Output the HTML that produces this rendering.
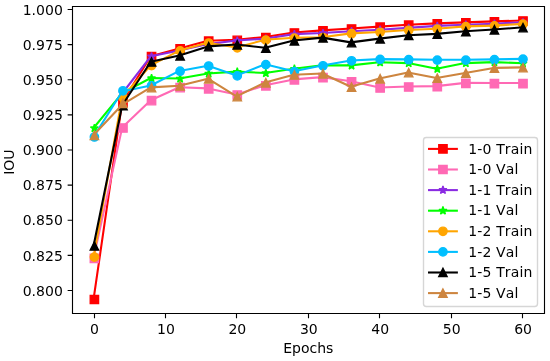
<!DOCTYPE html>
<html><head><meta charset="utf-8"><title>IOU vs Epochs</title>
<style>
html,body{margin:0;padding:0;background:#fff;}
body{width:550px;height:361px;overflow:hidden;}
svg{display:block;}
text{font-kerning:none;}
</style></head><body>
<svg width="550" height="361" viewBox="0 0 550 361">
<rect x="0" y="0" width="550" height="361" fill="#fff"/>
<defs><clipPath id="ax"><rect x="72.5" y="6.5" width="472.0" height="307.0"/></clipPath></defs>
<g clip-path="url(#ax)">
<path d="M93.6 299 L122.18 102.2 L150.76 56.2 L179.34 48.4 L207.92 40.7 L236.5 39.8 L265.08 37 L293.66 32.5 L322.24 30.4 L350.82 28.5 L379.4 26.6 L407.98 24.7 L436.56 23.4 L465.14 22.4 L493.72 21.4 L522.3 20.5" fill="none" stroke="#ff0000" stroke-width="2.08" stroke-linecap="square" stroke-linejoin="round"/>
<path d="M90.23 303.67 L98.57 303.67 L98.57 295.33 L90.23 295.33 Z" fill="#ff0000" stroke="#ff0000" stroke-width="1.39" stroke-linejoin="miter"/>
<path d="M118.81 106.87 L127.14 106.87 L127.14 98.53 L118.81 98.53 Z" fill="#ff0000" stroke="#ff0000" stroke-width="1.39" stroke-linejoin="miter"/>
<path d="M147.38 60.87 L155.71 60.87 L155.71 52.53 L147.38 52.53 Z" fill="#ff0000" stroke="#ff0000" stroke-width="1.39" stroke-linejoin="miter"/>
<path d="M175.95 53.07 L184.29 53.07 L184.29 44.73 L175.95 44.73 Z" fill="#ff0000" stroke="#ff0000" stroke-width="1.39" stroke-linejoin="miter"/>
<path d="M204.53 45.37 L212.86 45.37 L212.86 37.03 L204.53 37.03 Z" fill="#ff0000" stroke="#ff0000" stroke-width="1.39" stroke-linejoin="miter"/>
<path d="M233.1 44.47 L241.43 44.47 L241.43 36.13 L233.1 36.13 Z" fill="#ff0000" stroke="#ff0000" stroke-width="1.39" stroke-linejoin="miter"/>
<path d="M261.67 41.67 L270.01 41.67 L270.01 33.33 L261.67 33.33 Z" fill="#ff0000" stroke="#ff0000" stroke-width="1.39" stroke-linejoin="miter"/>
<path d="M290.25 37.17 L298.58 37.17 L298.58 28.83 L290.25 28.83 Z" fill="#ff0000" stroke="#ff0000" stroke-width="1.39" stroke-linejoin="miter"/>
<path d="M318.82 35.07 L327.15 35.07 L327.15 26.73 L318.82 26.73 Z" fill="#ff0000" stroke="#ff0000" stroke-width="1.39" stroke-linejoin="miter"/>
<path d="M347.39 33.17 L355.73 33.17 L355.73 24.83 L347.39 24.83 Z" fill="#ff0000" stroke="#ff0000" stroke-width="1.39" stroke-linejoin="miter"/>
<path d="M375.97 31.27 L384.3 31.27 L384.3 22.93 L375.97 22.93 Z" fill="#ff0000" stroke="#ff0000" stroke-width="1.39" stroke-linejoin="miter"/>
<path d="M404.54 29.37 L412.87 29.37 L412.87 21.03 L404.54 21.03 Z" fill="#ff0000" stroke="#ff0000" stroke-width="1.39" stroke-linejoin="miter"/>
<path d="M433.11 28.07 L441.45 28.07 L441.45 19.73 L433.11 19.73 Z" fill="#ff0000" stroke="#ff0000" stroke-width="1.39" stroke-linejoin="miter"/>
<path d="M461.69 27.07 L470.02 27.07 L470.02 18.73 L461.69 18.73 Z" fill="#ff0000" stroke="#ff0000" stroke-width="1.39" stroke-linejoin="miter"/>
<path d="M490.26 26.07 L498.59 26.07 L498.59 17.73 L490.26 17.73 Z" fill="#ff0000" stroke="#ff0000" stroke-width="1.39" stroke-linejoin="miter"/>
<path d="M518.83 25.17 L527.17 25.17 L527.17 16.83 L518.83 16.83 Z" fill="#ff0000" stroke="#ff0000" stroke-width="1.39" stroke-linejoin="miter"/>
<path d="M93.6 257.8 L122.18 127.5 L150.76 100.2 L179.34 87.2 L207.92 88.4 L236.5 94.5 L265.08 85.3 L293.66 79.4 L322.24 77.1 L350.82 81.3 L379.4 87.5 L407.98 86.5 L436.56 86.1 L465.14 82.9 L493.72 83 L522.3 83" fill="none" stroke="#ff69b4" stroke-width="2.08" stroke-linecap="square" stroke-linejoin="round"/>
<path d="M90.23 262.47 L98.57 262.47 L98.57 254.13 L90.23 254.13 Z" fill="#ff69b4" stroke="#ff69b4" stroke-width="1.39" stroke-linejoin="miter"/>
<path d="M118.81 132.17 L127.14 132.17 L127.14 123.83 L118.81 123.83 Z" fill="#ff69b4" stroke="#ff69b4" stroke-width="1.39" stroke-linejoin="miter"/>
<path d="M147.38 104.87 L155.71 104.87 L155.71 96.53 L147.38 96.53 Z" fill="#ff69b4" stroke="#ff69b4" stroke-width="1.39" stroke-linejoin="miter"/>
<path d="M175.95 91.87 L184.29 91.87 L184.29 83.53 L175.95 83.53 Z" fill="#ff69b4" stroke="#ff69b4" stroke-width="1.39" stroke-linejoin="miter"/>
<path d="M204.53 93.07 L212.86 93.07 L212.86 84.73 L204.53 84.73 Z" fill="#ff69b4" stroke="#ff69b4" stroke-width="1.39" stroke-linejoin="miter"/>
<path d="M233.1 99.17 L241.43 99.17 L241.43 90.83 L233.1 90.83 Z" fill="#ff69b4" stroke="#ff69b4" stroke-width="1.39" stroke-linejoin="miter"/>
<path d="M261.67 89.97 L270.01 89.97 L270.01 81.63 L261.67 81.63 Z" fill="#ff69b4" stroke="#ff69b4" stroke-width="1.39" stroke-linejoin="miter"/>
<path d="M290.25 84.07 L298.58 84.07 L298.58 75.73 L290.25 75.73 Z" fill="#ff69b4" stroke="#ff69b4" stroke-width="1.39" stroke-linejoin="miter"/>
<path d="M318.82 81.77 L327.15 81.77 L327.15 73.43 L318.82 73.43 Z" fill="#ff69b4" stroke="#ff69b4" stroke-width="1.39" stroke-linejoin="miter"/>
<path d="M347.39 85.97 L355.73 85.97 L355.73 77.63 L347.39 77.63 Z" fill="#ff69b4" stroke="#ff69b4" stroke-width="1.39" stroke-linejoin="miter"/>
<path d="M375.97 92.17 L384.3 92.17 L384.3 83.83 L375.97 83.83 Z" fill="#ff69b4" stroke="#ff69b4" stroke-width="1.39" stroke-linejoin="miter"/>
<path d="M404.54 91.17 L412.87 91.17 L412.87 82.83 L404.54 82.83 Z" fill="#ff69b4" stroke="#ff69b4" stroke-width="1.39" stroke-linejoin="miter"/>
<path d="M433.11 90.77 L441.45 90.77 L441.45 82.43 L433.11 82.43 Z" fill="#ff69b4" stroke="#ff69b4" stroke-width="1.39" stroke-linejoin="miter"/>
<path d="M461.69 87.57 L470.02 87.57 L470.02 79.23 L461.69 79.23 Z" fill="#ff69b4" stroke="#ff69b4" stroke-width="1.39" stroke-linejoin="miter"/>
<path d="M490.26 87.77 L498.59 87.77 L498.59 79.43 L490.26 79.43 Z" fill="#ff69b4" stroke="#ff69b4" stroke-width="1.39" stroke-linejoin="miter"/>
<path d="M518.83 87.77 L527.17 87.77 L527.17 79.43 L518.83 79.43 Z" fill="#ff69b4" stroke="#ff69b4" stroke-width="1.39" stroke-linejoin="miter"/>
<path d="M122.18 93.5 L150.76 56.3 L179.34 50.4 L207.92 44.1 L236.5 40.5 L265.08 38.7 L293.66 34.1 L322.24 33 L350.82 31.2 L379.4 29.7 L407.98 27.9 L436.56 25.9 L465.14 24.7 L493.72 23.7 L522.3 22.3" fill="none" stroke="#8a2be2" stroke-width="2.08" stroke-linecap="square" stroke-linejoin="round"/>
<path d="M122.97 89.13 L122.04 92.01 L119.01 92.01 L121.46 93.79 L120.52 96.67 L122.97 94.89 L125.42 96.67 L124.49 93.79 L126.94 92.01 L123.91 92.01 Z" fill="#8a2be2" stroke="#8a2be2" stroke-width="1.39" stroke-linejoin="bevel"/>
<path d="M151.55 52.43 L150.61 55.31 L147.58 55.31 L150.03 57.09 L149.1 59.97 L151.55 58.19 L154 59.97 L153.06 57.09 L155.51 55.31 L152.48 55.31 Z" fill="#8a2be2" stroke="#8a2be2" stroke-width="1.39" stroke-linejoin="bevel"/>
<path d="M180.12 46.53 L179.18 49.41 L176.16 49.41 L178.61 51.19 L177.67 54.07 L180.12 52.29 L182.57 54.07 L181.63 51.19 L184.08 49.41 L181.06 49.41 Z" fill="#8a2be2" stroke="#8a2be2" stroke-width="1.39" stroke-linejoin="bevel"/>
<path d="M208.69 40.23 L207.76 43.11 L204.73 43.11 L207.18 44.89 L206.24 47.77 L208.69 45.99 L211.14 47.77 L210.21 44.89 L212.66 43.11 L209.63 43.11 Z" fill="#8a2be2" stroke="#8a2be2" stroke-width="1.39" stroke-linejoin="bevel"/>
<path d="M237.27 36.63 L236.33 39.51 L233.3 39.51 L235.75 41.29 L234.82 44.17 L237.27 42.39 L239.72 44.17 L238.78 41.29 L241.23 39.51 L238.2 39.51 Z" fill="#8a2be2" stroke="#8a2be2" stroke-width="1.39" stroke-linejoin="bevel"/>
<path d="M265.84 34.83 L264.9 37.71 L261.88 37.71 L264.33 39.49 L263.39 42.37 L265.84 40.59 L268.29 42.37 L267.35 39.49 L269.8 37.71 L266.78 37.71 Z" fill="#8a2be2" stroke="#8a2be2" stroke-width="1.39" stroke-linejoin="bevel"/>
<path d="M294.41 30.23 L293.48 33.11 L290.45 33.11 L292.9 34.89 L291.96 37.77 L294.41 35.99 L296.86 37.77 L295.93 34.89 L298.38 33.11 L295.35 33.11 Z" fill="#8a2be2" stroke="#8a2be2" stroke-width="1.39" stroke-linejoin="bevel"/>
<path d="M322.99 29.13 L322.05 32.01 L319.02 32.01 L321.47 33.79 L320.54 36.67 L322.99 34.89 L325.44 36.67 L324.5 33.79 L326.95 32.01 L323.92 32.01 Z" fill="#8a2be2" stroke="#8a2be2" stroke-width="1.39" stroke-linejoin="bevel"/>
<path d="M351.56 27.33 L350.62 30.21 L347.6 30.21 L350.05 31.99 L349.11 34.87 L351.56 33.09 L354.01 34.87 L353.07 31.99 L355.52 30.21 L352.5 30.21 Z" fill="#8a2be2" stroke="#8a2be2" stroke-width="1.39" stroke-linejoin="bevel"/>
<path d="M380.13 25.83 L379.2 28.71 L376.17 28.71 L378.62 30.49 L377.68 33.37 L380.13 31.59 L382.58 33.37 L381.65 30.49 L384.1 28.71 L381.07 28.71 Z" fill="#8a2be2" stroke="#8a2be2" stroke-width="1.39" stroke-linejoin="bevel"/>
<path d="M408.71 24.03 L407.77 26.91 L404.74 26.91 L407.19 28.69 L406.26 31.57 L408.71 29.79 L411.16 31.57 L410.22 28.69 L412.67 26.91 L409.64 26.91 Z" fill="#8a2be2" stroke="#8a2be2" stroke-width="1.39" stroke-linejoin="bevel"/>
<path d="M437.28 22.03 L436.34 24.91 L433.32 24.91 L435.77 26.69 L434.83 29.57 L437.28 27.79 L439.73 29.57 L438.79 26.69 L441.24 24.91 L438.22 24.91 Z" fill="#8a2be2" stroke="#8a2be2" stroke-width="1.39" stroke-linejoin="bevel"/>
<path d="M465.85 20.83 L464.92 23.71 L461.89 23.71 L464.34 25.49 L463.4 28.37 L465.85 26.59 L468.3 28.37 L467.37 25.49 L469.82 23.71 L466.79 23.71 Z" fill="#8a2be2" stroke="#8a2be2" stroke-width="1.39" stroke-linejoin="bevel"/>
<path d="M494.43 19.83 L493.49 22.71 L490.46 22.71 L492.91 24.49 L491.98 27.37 L494.43 25.59 L496.88 27.37 L495.94 24.49 L498.39 22.71 L495.36 22.71 Z" fill="#8a2be2" stroke="#8a2be2" stroke-width="1.39" stroke-linejoin="bevel"/>
<path d="M523 18.43 L522.06 21.31 L519.04 21.31 L521.49 23.09 L520.55 25.97 L523 24.19 L525.45 25.97 L524.51 23.09 L526.96 21.31 L523.94 21.31 Z" fill="#8a2be2" stroke="#8a2be2" stroke-width="1.39" stroke-linejoin="bevel"/>
<path d="M93.6 128 L122.18 93.2 L150.76 78 L179.34 78.5 L207.92 73.5 L236.5 71.6 L265.08 73 L293.66 68.7 L322.24 65.2 L350.82 65.4 L379.4 62.3 L407.98 63.1 L436.56 68.7 L465.14 63.1 L493.72 62.1 L522.3 63.2" fill="none" stroke="#00ff00" stroke-width="2.08" stroke-linecap="square" stroke-linejoin="round"/>
<path d="M94.4 124.13 L93.46 127.01 L90.44 127.01 L92.89 128.79 L91.95 131.67 L94.4 129.89 L96.85 131.67 L95.91 128.79 L98.36 127.01 L95.34 127.01 Z" fill="#00ff00" stroke="#00ff00" stroke-width="1.39" stroke-linejoin="bevel"/>
<path d="M122.97 88.33 L122.04 91.21 L119.01 91.21 L121.46 92.99 L120.52 95.87 L122.97 94.09 L125.42 95.87 L124.49 92.99 L126.94 91.21 L123.91 91.21 Z" fill="#00ff00" stroke="#00ff00" stroke-width="1.39" stroke-linejoin="bevel"/>
<path d="M151.55 74.13 L150.61 77.01 L147.58 77.01 L150.03 78.79 L149.1 81.67 L151.55 79.89 L154 81.67 L153.06 78.79 L155.51 77.01 L152.48 77.01 Z" fill="#00ff00" stroke="#00ff00" stroke-width="1.39" stroke-linejoin="bevel"/>
<path d="M180.12 74.63 L179.18 77.51 L176.16 77.51 L178.61 79.29 L177.67 82.17 L180.12 80.39 L182.57 82.17 L181.63 79.29 L184.08 77.51 L181.06 77.51 Z" fill="#00ff00" stroke="#00ff00" stroke-width="1.39" stroke-linejoin="bevel"/>
<path d="M208.69 69.63 L207.76 72.51 L204.73 72.51 L207.18 74.29 L206.24 77.17 L208.69 75.39 L211.14 77.17 L210.21 74.29 L212.66 72.51 L209.63 72.51 Z" fill="#00ff00" stroke="#00ff00" stroke-width="1.39" stroke-linejoin="bevel"/>
<path d="M237.27 67.73 L236.33 70.61 L233.3 70.61 L235.75 72.39 L234.82 75.27 L237.27 73.49 L239.72 75.27 L238.78 72.39 L241.23 70.61 L238.2 70.61 Z" fill="#00ff00" stroke="#00ff00" stroke-width="1.39" stroke-linejoin="bevel"/>
<path d="M265.84 69.13 L264.9 72.01 L261.88 72.01 L264.33 73.79 L263.39 76.67 L265.84 74.89 L268.29 76.67 L267.35 73.79 L269.8 72.01 L266.78 72.01 Z" fill="#00ff00" stroke="#00ff00" stroke-width="1.39" stroke-linejoin="bevel"/>
<path d="M294.41 64.83 L293.48 67.71 L290.45 67.71 L292.9 69.49 L291.96 72.37 L294.41 70.59 L296.86 72.37 L295.93 69.49 L298.38 67.71 L295.35 67.71 Z" fill="#00ff00" stroke="#00ff00" stroke-width="1.39" stroke-linejoin="bevel"/>
<path d="M322.99 61.33 L322.05 64.21 L319.02 64.21 L321.47 65.99 L320.54 68.87 L322.99 67.09 L325.44 68.87 L324.5 65.99 L326.95 64.21 L323.92 64.21 Z" fill="#00ff00" stroke="#00ff00" stroke-width="1.39" stroke-linejoin="bevel"/>
<path d="M351.56 61.53 L350.62 64.41 L347.6 64.41 L350.05 66.19 L349.11 69.07 L351.56 67.29 L354.01 69.07 L353.07 66.19 L355.52 64.41 L352.5 64.41 Z" fill="#00ff00" stroke="#00ff00" stroke-width="1.39" stroke-linejoin="bevel"/>
<path d="M380.13 58.43 L379.2 61.31 L376.17 61.31 L378.62 63.09 L377.68 65.97 L380.13 64.19 L382.58 65.97 L381.65 63.09 L384.1 61.31 L381.07 61.31 Z" fill="#00ff00" stroke="#00ff00" stroke-width="1.39" stroke-linejoin="bevel"/>
<path d="M408.71 59.23 L407.77 62.11 L404.74 62.11 L407.19 63.89 L406.26 66.77 L408.71 64.99 L411.16 66.77 L410.22 63.89 L412.67 62.11 L409.64 62.11 Z" fill="#00ff00" stroke="#00ff00" stroke-width="1.39" stroke-linejoin="bevel"/>
<path d="M437.28 64.83 L436.34 67.71 L433.32 67.71 L435.77 69.49 L434.83 72.37 L437.28 70.59 L439.73 72.37 L438.79 69.49 L441.24 67.71 L438.22 67.71 Z" fill="#00ff00" stroke="#00ff00" stroke-width="1.39" stroke-linejoin="bevel"/>
<path d="M465.85 59.23 L464.92 62.11 L461.89 62.11 L464.34 63.89 L463.4 66.77 L465.85 64.99 L468.3 66.77 L467.37 63.89 L469.82 62.11 L466.79 62.11 Z" fill="#00ff00" stroke="#00ff00" stroke-width="1.39" stroke-linejoin="bevel"/>
<path d="M494.43 58.23 L493.49 61.11 L490.46 61.11 L492.91 62.89 L491.98 65.77 L494.43 63.99 L496.88 65.77 L495.94 62.89 L498.39 61.11 L495.36 61.11 Z" fill="#00ff00" stroke="#00ff00" stroke-width="1.39" stroke-linejoin="bevel"/>
<path d="M523 59.33 L522.06 62.21 L519.04 62.21 L521.49 63.99 L520.55 66.87 L523 65.09 L525.45 66.87 L524.51 63.99 L526.96 62.21 L523.94 62.21 Z" fill="#00ff00" stroke="#00ff00" stroke-width="1.39" stroke-linejoin="bevel"/>
<path d="M93.6 256.8 L122.18 97.2 L150.76 65.3 L179.34 50.6 L207.92 42.7 L236.5 47.5 L265.08 39.8 L293.66 37.8 L322.24 37.2 L350.82 33.4 L379.4 32 L407.98 30 L436.56 28.8 L465.14 26.4 L493.72 25.6 L522.3 23.9" fill="none" stroke="#ffa500" stroke-width="2.08" stroke-linecap="square" stroke-linejoin="round"/>
<circle cx="94.4" cy="257.1" r="4.17" fill="#ffa500" stroke="#ffa500" stroke-width="1.39"/>
<circle cx="122.97" cy="97.5" r="4.17" fill="#ffa500" stroke="#ffa500" stroke-width="1.39"/>
<circle cx="151.55" cy="65.6" r="4.17" fill="#ffa500" stroke="#ffa500" stroke-width="1.39"/>
<circle cx="180.12" cy="50.9" r="4.17" fill="#ffa500" stroke="#ffa500" stroke-width="1.39"/>
<circle cx="208.69" cy="43" r="4.17" fill="#ffa500" stroke="#ffa500" stroke-width="1.39"/>
<circle cx="237.27" cy="47.8" r="4.17" fill="#ffa500" stroke="#ffa500" stroke-width="1.39"/>
<circle cx="265.84" cy="40.1" r="4.17" fill="#ffa500" stroke="#ffa500" stroke-width="1.39"/>
<circle cx="294.41" cy="38.1" r="4.17" fill="#ffa500" stroke="#ffa500" stroke-width="1.39"/>
<circle cx="322.99" cy="37.5" r="4.17" fill="#ffa500" stroke="#ffa500" stroke-width="1.39"/>
<circle cx="351.56" cy="33.7" r="4.17" fill="#ffa500" stroke="#ffa500" stroke-width="1.39"/>
<circle cx="380.13" cy="32.3" r="4.17" fill="#ffa500" stroke="#ffa500" stroke-width="1.39"/>
<circle cx="408.71" cy="30.3" r="4.17" fill="#ffa500" stroke="#ffa500" stroke-width="1.39"/>
<circle cx="437.28" cy="29.1" r="4.17" fill="#ffa500" stroke="#ffa500" stroke-width="1.39"/>
<circle cx="465.85" cy="26.7" r="4.17" fill="#ffa500" stroke="#ffa500" stroke-width="1.39"/>
<circle cx="494.43" cy="25.9" r="4.17" fill="#ffa500" stroke="#ffa500" stroke-width="1.39"/>
<circle cx="523" cy="24.2" r="4.17" fill="#ffa500" stroke="#ffa500" stroke-width="1.39"/>
<path d="M93.6 136.7 L122.18 91.5 L150.76 85.5 L179.34 70.9 L207.92 65.7 L236.5 75.6 L265.08 64.3 L293.66 71.2 L322.24 65.5 L350.82 60.5 L379.4 59.1 L407.98 59.4 L436.56 59.8 L465.14 59.8 L493.72 59.4 L522.3 58.9" fill="none" stroke="#00bfff" stroke-width="2.08" stroke-linecap="square" stroke-linejoin="round"/>
<circle cx="94.4" cy="137" r="4.17" fill="#00bfff" stroke="#00bfff" stroke-width="1.39"/>
<circle cx="122.97" cy="90.8" r="4.17" fill="#00bfff" stroke="#00bfff" stroke-width="1.39"/>
<circle cx="151.55" cy="85.8" r="4.17" fill="#00bfff" stroke="#00bfff" stroke-width="1.39"/>
<circle cx="180.12" cy="71.2" r="4.17" fill="#00bfff" stroke="#00bfff" stroke-width="1.39"/>
<circle cx="208.69" cy="66" r="4.17" fill="#00bfff" stroke="#00bfff" stroke-width="1.39"/>
<circle cx="237.27" cy="75.9" r="4.17" fill="#00bfff" stroke="#00bfff" stroke-width="1.39"/>
<circle cx="265.84" cy="64.6" r="4.17" fill="#00bfff" stroke="#00bfff" stroke-width="1.39"/>
<circle cx="294.41" cy="71.5" r="4.17" fill="#00bfff" stroke="#00bfff" stroke-width="1.39"/>
<circle cx="322.99" cy="65.8" r="4.17" fill="#00bfff" stroke="#00bfff" stroke-width="1.39"/>
<circle cx="351.56" cy="60.8" r="4.17" fill="#00bfff" stroke="#00bfff" stroke-width="1.39"/>
<circle cx="380.13" cy="59.4" r="4.17" fill="#00bfff" stroke="#00bfff" stroke-width="1.39"/>
<circle cx="408.71" cy="59.7" r="4.17" fill="#00bfff" stroke="#00bfff" stroke-width="1.39"/>
<circle cx="437.28" cy="60.1" r="4.17" fill="#00bfff" stroke="#00bfff" stroke-width="1.39"/>
<circle cx="465.85" cy="60.1" r="4.17" fill="#00bfff" stroke="#00bfff" stroke-width="1.39"/>
<circle cx="494.43" cy="59.7" r="4.17" fill="#00bfff" stroke="#00bfff" stroke-width="1.39"/>
<circle cx="523" cy="59.2" r="4.17" fill="#00bfff" stroke="#00bfff" stroke-width="1.39"/>
<path d="M93.6 245.7 L122.18 105.3 L150.76 61.7 L179.34 55.5 L207.92 46.4 L236.5 44.5 L265.08 47.8 L293.66 40.5 L322.24 37.6 L350.82 42.4 L379.4 38.6 L407.98 35.2 L436.56 33.9 L465.14 31.3 L493.72 29.5 L522.3 27.4" fill="none" stroke="#000000" stroke-width="2.08" stroke-linecap="square" stroke-linejoin="round"/>
<path d="M94.4 241.83 L90.23 250.17 L98.57 250.17 Z" fill="#000000" stroke="#000000" stroke-width="1.39" stroke-linejoin="miter"/>
<path d="M122.97 101.43 L118.81 109.77 L127.14 109.77 Z" fill="#000000" stroke="#000000" stroke-width="1.39" stroke-linejoin="miter"/>
<path d="M151.55 57.83 L147.38 66.17 L155.71 66.17 Z" fill="#000000" stroke="#000000" stroke-width="1.39" stroke-linejoin="miter"/>
<path d="M180.12 51.63 L175.95 59.97 L184.29 59.97 Z" fill="#000000" stroke="#000000" stroke-width="1.39" stroke-linejoin="miter"/>
<path d="M208.69 42.53 L204.53 50.87 L212.86 50.87 Z" fill="#000000" stroke="#000000" stroke-width="1.39" stroke-linejoin="miter"/>
<path d="M237.27 40.63 L233.1 48.97 L241.43 48.97 Z" fill="#000000" stroke="#000000" stroke-width="1.39" stroke-linejoin="miter"/>
<path d="M265.84 43.93 L261.67 52.27 L270.01 52.27 Z" fill="#000000" stroke="#000000" stroke-width="1.39" stroke-linejoin="miter"/>
<path d="M294.41 36.63 L290.25 44.97 L298.58 44.97 Z" fill="#000000" stroke="#000000" stroke-width="1.39" stroke-linejoin="miter"/>
<path d="M322.99 33.73 L318.82 42.07 L327.15 42.07 Z" fill="#000000" stroke="#000000" stroke-width="1.39" stroke-linejoin="miter"/>
<path d="M351.56 38.53 L347.39 46.87 L355.73 46.87 Z" fill="#000000" stroke="#000000" stroke-width="1.39" stroke-linejoin="miter"/>
<path d="M380.13 34.73 L375.97 43.07 L384.3 43.07 Z" fill="#000000" stroke="#000000" stroke-width="1.39" stroke-linejoin="miter"/>
<path d="M408.71 31.33 L404.54 39.67 L412.87 39.67 Z" fill="#000000" stroke="#000000" stroke-width="1.39" stroke-linejoin="miter"/>
<path d="M437.28 30.03 L433.11 38.37 L441.45 38.37 Z" fill="#000000" stroke="#000000" stroke-width="1.39" stroke-linejoin="miter"/>
<path d="M465.85 27.43 L461.69 35.77 L470.02 35.77 Z" fill="#000000" stroke="#000000" stroke-width="1.39" stroke-linejoin="miter"/>
<path d="M494.43 25.63 L490.26 33.97 L498.59 33.97 Z" fill="#000000" stroke="#000000" stroke-width="1.39" stroke-linejoin="miter"/>
<path d="M523 23.53 L518.83 31.87 L527.17 31.87 Z" fill="#000000" stroke="#000000" stroke-width="1.39" stroke-linejoin="miter"/>
<path d="M93.6 135 L122.18 104.7 L150.76 87.4 L179.34 85.7 L207.92 78.7 L236.5 96.4 L265.08 82.5 L293.66 74.7 L322.24 73.5 L350.82 86.8 L379.4 78.5 L407.98 72.4 L436.56 77.9 L465.14 72.9 L493.72 67.9 L522.3 67.4" fill="none" stroke="#cd853f" stroke-width="2.08" stroke-linecap="square" stroke-linejoin="round"/>
<path d="M94.4 131.13 L90.23 139.47 L98.57 139.47 Z" fill="#cd853f" stroke="#cd853f" stroke-width="1.39" stroke-linejoin="miter"/>
<path d="M122.97 99.13 L118.81 107.47 L127.14 107.47 Z" fill="#cd853f" stroke="#cd853f" stroke-width="1.39" stroke-linejoin="miter"/>
<path d="M151.55 83.53 L147.38 91.87 L155.71 91.87 Z" fill="#cd853f" stroke="#cd853f" stroke-width="1.39" stroke-linejoin="miter"/>
<path d="M180.12 81.83 L175.95 90.17 L184.29 90.17 Z" fill="#cd853f" stroke="#cd853f" stroke-width="1.39" stroke-linejoin="miter"/>
<path d="M208.69 74.83 L204.53 83.17 L212.86 83.17 Z" fill="#cd853f" stroke="#cd853f" stroke-width="1.39" stroke-linejoin="miter"/>
<path d="M237.27 92.53 L233.1 100.87 L241.43 100.87 Z" fill="#cd853f" stroke="#cd853f" stroke-width="1.39" stroke-linejoin="miter"/>
<path d="M265.84 78.63 L261.67 86.97 L270.01 86.97 Z" fill="#cd853f" stroke="#cd853f" stroke-width="1.39" stroke-linejoin="miter"/>
<path d="M294.41 70.83 L290.25 79.17 L298.58 79.17 Z" fill="#cd853f" stroke="#cd853f" stroke-width="1.39" stroke-linejoin="miter"/>
<path d="M322.99 69.63 L318.82 77.97 L327.15 77.97 Z" fill="#cd853f" stroke="#cd853f" stroke-width="1.39" stroke-linejoin="miter"/>
<path d="M351.56 82.93 L347.39 91.27 L355.73 91.27 Z" fill="#cd853f" stroke="#cd853f" stroke-width="1.39" stroke-linejoin="miter"/>
<path d="M380.13 74.63 L375.97 82.97 L384.3 82.97 Z" fill="#cd853f" stroke="#cd853f" stroke-width="1.39" stroke-linejoin="miter"/>
<path d="M408.71 68.53 L404.54 76.87 L412.87 76.87 Z" fill="#cd853f" stroke="#cd853f" stroke-width="1.39" stroke-linejoin="miter"/>
<path d="M437.28 74.03 L433.11 82.37 L441.45 82.37 Z" fill="#cd853f" stroke="#cd853f" stroke-width="1.39" stroke-linejoin="miter"/>
<path d="M465.85 69.03 L461.69 77.37 L470.02 77.37 Z" fill="#cd853f" stroke="#cd853f" stroke-width="1.39" stroke-linejoin="miter"/>
<path d="M494.43 64.03 L490.26 72.37 L498.59 72.37 Z" fill="#cd853f" stroke="#cd853f" stroke-width="1.39" stroke-linejoin="miter"/>
<path d="M523 63.53 L518.83 71.87 L527.17 71.87 Z" fill="#cd853f" stroke="#cd853f" stroke-width="1.39" stroke-linejoin="miter"/>
</g>
<path d="M72.5 313.5 L72.5 6.5 M544.5 313.5 L544.5 6.5 M72.5 313.5 L544.5 313.5 M72.5 6.5 L544.5 6.5" fill="none" stroke="#000" stroke-width="1.11" stroke-linecap="square" stroke-linejoin="miter"/>
<path d="M94.5 313.5 L94.5 318.36 M165.5 313.5 L165.5 318.36 M236.5 313.5 L236.5 318.36 M308.5 313.5 L308.5 318.36 M379.5 313.5 L379.5 318.36 M451.5 313.5 L451.5 318.36 M522.5 313.5 L522.5 318.36 M72.5 290.5 L67.64 290.5 M72.5 255.38 L67.64 255.38 M72.5 220.25 L67.64 220.25 M72.5 185.12 L67.64 185.12 M72.5 150 L67.64 150 M72.5 114.87 L67.64 114.87 M72.5 79.75 L67.64 79.75 M72.5 44.63 L67.64 44.63 M72.5 9.5 L67.64 9.5" fill="none" stroke="#000" stroke-width="1.11"/>
<text x="94.5" y="333.5" text-anchor="middle" font-family="'DejaVu Sans', sans-serif" font-size="14" fill="#000">0</text>
<text x="165.93" y="333.5" text-anchor="middle" font-family="'DejaVu Sans', sans-serif" font-size="14" fill="#000">10</text>
<text x="237.37" y="333.5" text-anchor="middle" font-family="'DejaVu Sans', sans-serif" font-size="14" fill="#000">20</text>
<text x="308.8" y="333.5" text-anchor="middle" font-family="'DejaVu Sans', sans-serif" font-size="14" fill="#000">30</text>
<text x="380.23" y="333.5" text-anchor="middle" font-family="'DejaVu Sans', sans-serif" font-size="14" fill="#000">40</text>
<text x="451.67" y="333.5" text-anchor="middle" font-family="'DejaVu Sans', sans-serif" font-size="14" fill="#000">50</text>
<text x="523.1" y="333.5" text-anchor="middle" font-family="'DejaVu Sans', sans-serif" font-size="14" fill="#000">60</text>
<text x="62.8" y="295.7" text-anchor="end" font-family="'DejaVu Sans', sans-serif" font-size="14" fill="#000">0.800</text>
<text x="62.8" y="260.58" text-anchor="end" font-family="'DejaVu Sans', sans-serif" font-size="14" fill="#000">0.825</text>
<text x="62.8" y="225.45" text-anchor="end" font-family="'DejaVu Sans', sans-serif" font-size="14" fill="#000">0.850</text>
<text x="62.8" y="190.32" text-anchor="end" font-family="'DejaVu Sans', sans-serif" font-size="14" fill="#000">0.875</text>
<text x="62.8" y="155.2" text-anchor="end" font-family="'DejaVu Sans', sans-serif" font-size="14" fill="#000">0.900</text>
<text x="62.8" y="120.07" text-anchor="end" font-family="'DejaVu Sans', sans-serif" font-size="14" fill="#000">0.925</text>
<text x="62.8" y="84.95" text-anchor="end" font-family="'DejaVu Sans', sans-serif" font-size="14" fill="#000">0.950</text>
<text x="62.8" y="49.83" text-anchor="end" font-family="'DejaVu Sans', sans-serif" font-size="14" fill="#000">0.975</text>
<text x="62.8" y="14.7" text-anchor="end" font-family="'DejaVu Sans', sans-serif" font-size="14" fill="#000">1.000</text>
<text x="308.3" y="353.1" text-anchor="middle" font-family="'DejaVu Sans', sans-serif" font-size="14" fill="#000">Epochs</text>
<text transform="translate(14.2 162.1) rotate(-90)" x="0" y="0" text-anchor="middle" font-family="'DejaVu Sans', sans-serif" font-size="14" fill="#000">IOU</text>
<path d="M426.27777777777777 137.5 L534.7222222222222 137.5 Q537.5 137.5 537.5 140.27777777777777 L537.5 303.72222222222223 Q537.5 306.5 534.7222222222222 306.5 L426.27777777777777 306.5 Q423.5 306.5 423.5 303.72222222222223 L423.5 140.27777777777777 Q423.5 137.5 426.27777777777777 137.5 Z" fill="#fff" fill-opacity="0.8" stroke="#cccccc" stroke-opacity="0.8" stroke-width="1.39" stroke-linejoin="miter"/>
<path d="M429.06 148.9 L456.84 148.9" stroke="#ff0000" stroke-width="2.08" stroke-linecap="square" fill="none"/>
<path d="M438.78 153.07 L447.12 153.07 L447.12 144.73 L438.78 144.73 Z" fill="#ff0000" stroke="#ff0000" stroke-width="1.39" stroke-linejoin="miter"/>
<text x="468.3" y="153.5" textLength="64" lengthAdjust="spacing" font-family="'DejaVu Sans', sans-serif" font-size="14" fill="#000">1-0 Train</text>
<path d="M429.06 169.5 L456.84 169.5" stroke="#ff69b4" stroke-width="2.08" stroke-linecap="square" fill="none"/>
<path d="M438.78 173.67 L447.12 173.67 L447.12 165.33 L438.78 165.33 Z" fill="#ff69b4" stroke="#ff69b4" stroke-width="1.39" stroke-linejoin="miter"/>
<text x="468.3" y="174.1" textLength="50" lengthAdjust="spacing" font-family="'DejaVu Sans', sans-serif" font-size="14" fill="#000">1-0 Val</text>
<path d="M429.06 190.1 L456.84 190.1" stroke="#8a2be2" stroke-width="2.08" stroke-linecap="square" fill="none"/>
<path d="M442.95 185.93 L442.01 188.81 L438.99 188.81 L441.44 190.59 L440.5 193.47 L442.95 191.69 L445.4 193.47 L444.46 190.59 L446.91 188.81 L443.89 188.81 Z" fill="#8a2be2" stroke="#8a2be2" stroke-width="1.39" stroke-linejoin="bevel"/>
<text x="468.3" y="194.7" textLength="64" lengthAdjust="spacing" font-family="'DejaVu Sans', sans-serif" font-size="14" fill="#000">1-1 Train</text>
<path d="M429.06 210.7 L456.84 210.7" stroke="#00ff00" stroke-width="2.08" stroke-linecap="square" fill="none"/>
<path d="M442.95 206.53 L442.01 209.41 L438.99 209.41 L441.44 211.19 L440.5 214.07 L442.95 212.29 L445.4 214.07 L444.46 211.19 L446.91 209.41 L443.89 209.41 Z" fill="#00ff00" stroke="#00ff00" stroke-width="1.39" stroke-linejoin="bevel"/>
<text x="468.3" y="215.3" textLength="50" lengthAdjust="spacing" font-family="'DejaVu Sans', sans-serif" font-size="14" fill="#000">1-1 Val</text>
<path d="M429.06 231.3 L456.84 231.3" stroke="#ffa500" stroke-width="2.08" stroke-linecap="square" fill="none"/>
<circle cx="442.95" cy="231.3" r="4.17" fill="#ffa500" stroke="#ffa500" stroke-width="1.39"/>
<text x="468.3" y="235.9" textLength="64" lengthAdjust="spacing" font-family="'DejaVu Sans', sans-serif" font-size="14" fill="#000">1-2 Train</text>
<path d="M429.06 251.9 L456.84 251.9" stroke="#00bfff" stroke-width="2.08" stroke-linecap="square" fill="none"/>
<circle cx="442.95" cy="251.9" r="4.17" fill="#00bfff" stroke="#00bfff" stroke-width="1.39"/>
<text x="468.3" y="256.5" textLength="50" lengthAdjust="spacing" font-family="'DejaVu Sans', sans-serif" font-size="14" fill="#000">1-2 Val</text>
<path d="M429.06 272.5 L456.84 272.5" stroke="#000000" stroke-width="2.08" stroke-linecap="square" fill="none"/>
<path d="M442.95 268.33 L438.78 276.67 L447.12 276.67 Z" fill="#000000" stroke="#000000" stroke-width="1.39" stroke-linejoin="miter"/>
<text x="468.3" y="277.1" textLength="64" lengthAdjust="spacing" font-family="'DejaVu Sans', sans-serif" font-size="14" fill="#000">1-5 Train</text>
<path d="M429.06 293.1 L456.84 293.1" stroke="#cd853f" stroke-width="2.08" stroke-linecap="square" fill="none"/>
<path d="M442.95 288.93 L438.78 297.27 L447.12 297.27 Z" fill="#cd853f" stroke="#cd853f" stroke-width="1.39" stroke-linejoin="miter"/>
<text x="468.3" y="297.7" textLength="50" lengthAdjust="spacing" font-family="'DejaVu Sans', sans-serif" font-size="14" fill="#000">1-5 Val</text>
</svg>
</body></html>
